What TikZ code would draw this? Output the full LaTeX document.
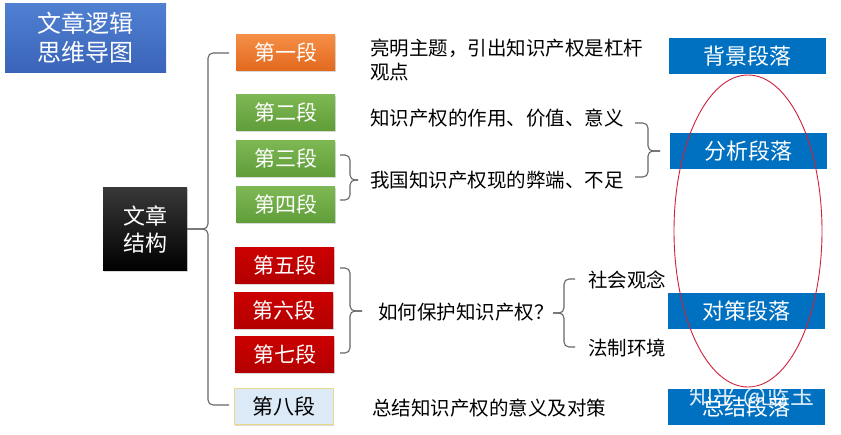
\documentclass[tikz,border=0pt]{standalone}
\usepackage{fontspec}
\setmainfont{Noto Sans CJK SC}
\usetikzlibrary{shadows}
\definecolor{xianhui}{HTML}{666666}
\definecolor{lanse}{HTML}{0070C0}
\definecolor{hongquan}{HTML}{D0203A}
\definecolor{btshang}{RGB}{80,128,210}
\definecolor{btxia}{RGB}{58,100,184}
\definecolor{chengshang}{RGB}{246,143,72}
\definecolor{chengxia}{RGB}{226,106,30}
\definecolor{lvshang}{RGB}{126,184,84}
\definecolor{lvxia}{RGB}{96,158,58}
\definecolor{hongshang}{RGB}{204,0,0}
\definecolor{hongxia}{RGB}{180,0,0}
\definecolor{qianlan}{RGB}{220,233,247}
\definecolor{danhuang}{RGB}{232,216,138}
\newcommand{\zi}[2]{\fontsize{#1}{#2}\selectfont}

\begin{document}
\begin{tikzpicture}[x=1pt,y=-1pt,
   duan/.style={minimum width=99pt,minimum height=36pt,inner sep=0pt,text=white,font=\zi{21}{21},
                drop shadow={shadow xshift=1pt,shadow yshift=-1.5pt,opacity=.3}},
   lv/.style={duan,top color=lvshang,bottom color=lvxia},
   hong/.style={duan,top color=hongshang,bottom color=hongxia},
   lanhe/.style={fill=lanse,minimum width=157pt,minimum height=36pt,inner sep=0pt,text=white,font=\zi{22}{22}},
   wenzi/.style={anchor=west,inner sep=0pt,align=left,font=\zi{19.5}{24}},
   xian/.style={draw=xianhui,line width=1.1pt,rounded corners=5pt}]
   \useasboundingbox (0,0) rectangle (841,434);
   % title and root
   \node[top color=btshang,bottom color=btxia,minimum width=161pt,minimum height=69pt,
         text=white,align=center,font=\zi{24}{29}] (biaoti) at (85.5,37.5) {文章逻辑\\思维导图};
   \node[duan,top color=black!78,bottom color=black,minimum width=84pt,minimum height=83pt,align=center,font=\zi{22}{27}]
         (wz) at (145,229) {文章\\结构};
   % paragraphs
   \node[duan,top color=chengshang,bottom color=chengxia] (d1) at (285.5,52) {第一段};
   \node[lv] (d2) at (285.5,112) {第二段};
   \node[lv] (d3) at (285.5,158) {第三段};
   \node[lv] (d4) at (285.5,204.5) {第四段};
   \node[hong] (d5) at (284.5,265) {第五段};
   \node[hong] (d6) at (283.5,310) {第六段};
   \node[hong] (d7) at (284.5,354) {第七段};
   \node[duan,fill=qianlan,draw=danhuang,text=black] (d8) at (283.5,406) {第八段};
   % texts
   \node[wenzi] (t1) at (370,60) {亮明主题，引出知识产权是杠杆\\观点};
   \node[wenzi] (t2) at (370,118) {知识产权的作用、价值、意义};
   \node[wenzi] (t3) at (370,180) {我国知识产权现的弊端、不足};
   \node[wenzi] (t4) at (378,312) {如何保护知识产权？};
   \node[wenzi] (t5) at (588,280) {社会观念};
   \node[wenzi] (t6) at (588,348) {法制环境};
   \node[wenzi] (t7) at (372,408) {总结知识产权的意义及对策};
   % sections
   \node[lanhe] (bj) at (747.5,56) {背景段落};
   \node[lanhe] (fx) at (748.5,151) {分析段落};
   \node[lanhe] (dc) at (746,311) {对策段落};
   \node[lanhe] (zj) at (746.5,407) {总结段落};
   % braces
   \coordinate (a top) at (229,53);  \coordinate (a bot) at (229,405); \coordinate (a mid) at (208,229);
   \draw[xian] (a top) -| (a mid) -- (wz.east);
   \draw[xian] (a bot) -| (a mid) -- (wz.east);
   \coordinate (b top) at (340,155); \coordinate (b bot) at (340,200); \coordinate (b tip) at (358,180);
   \coordinate (b mid) at (350,180);
   \draw[xian] (b top) -| (b mid) -- (b tip);
   \draw[xian] (b bot) -| (b mid) -- (b tip);
   \coordinate (c top) at (635,123); \coordinate (c bot) at (635,177); \coordinate (c tip) at (660,151);
   \coordinate (c mid) at (648,151);
   \draw[xian] (c top) -| (c mid) -- (c tip);
   \draw[xian] (c bot) -| (c mid) -- (c tip);
   \coordinate (e top) at (340,268); \coordinate (e bot) at (340,353); \coordinate (e tip) at (362,311);
   \coordinate (e mid) at (350,311);
   \draw[xian] (e top) -| (e mid) -- (e tip);
   \draw[xian] (e bot) -| (e mid) -- (e tip);
   \coordinate (f top) at (575,279); \coordinate (f bot) at (575,347); \coordinate (f tip) at (553,313);
   \coordinate (f mid) at (564,313);
   \draw[xian] (f top) -| (f mid) -- (f tip);
   \draw[xian] (f bot) -| (f mid) -- (f tip);
   % red ring
   \draw[hongquan,line width=0.9pt] (748,231) ellipse [x radius=74,y radius=156];
   \node[text=white,opacity=.85,inner sep=0pt,font=\zi{24}{24}] (shuiyin) at (752,396) {知乎 @蓝玉};
\end{tikzpicture}
\end{document}
